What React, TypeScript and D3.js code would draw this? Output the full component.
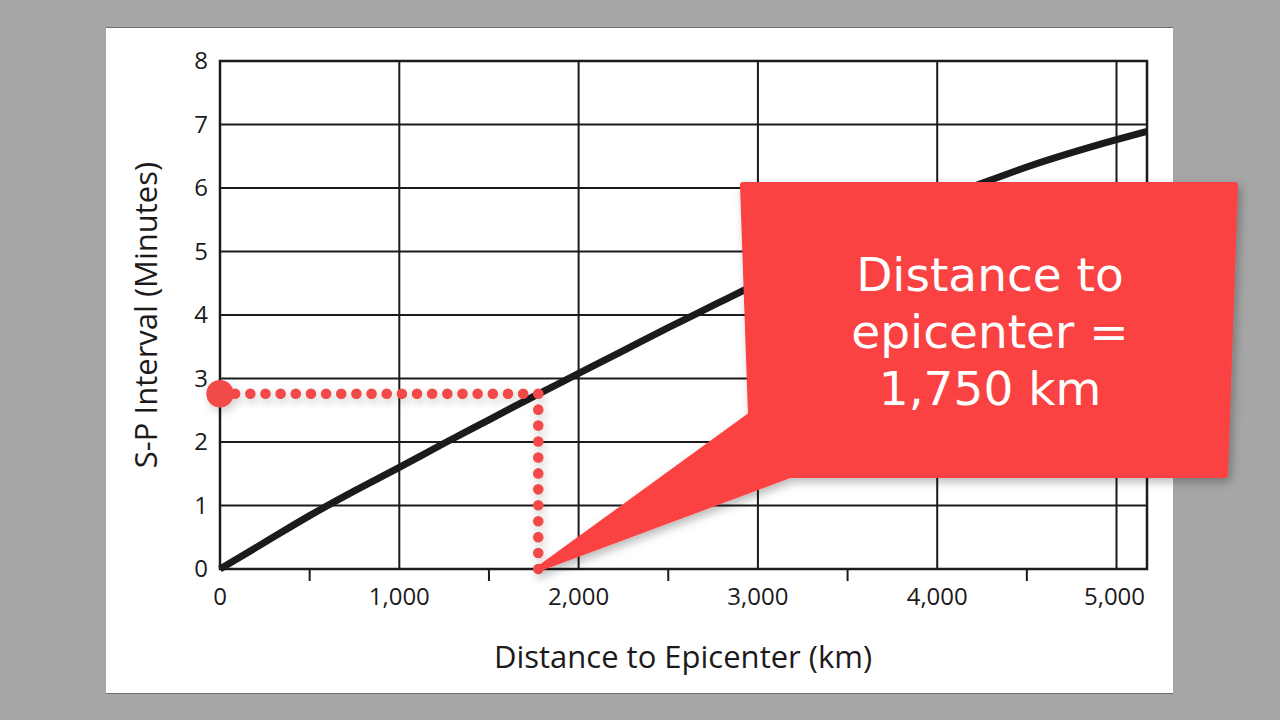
import React from "react";
import * as d3 from "d3";

// ---- data ----
const distanceKm = [0, 250, 500, 750, 1000, 1250, 1500, 1750, 2000, 2250, 2500, 2750, 3000, 3500, 4000, 4500, 5000, 5170];
const spMinutes = [0, 0.42, 0.84, 1.23, 1.6, 1.98, 2.35, 2.72, 3.08, 3.44, 3.8, 4.15, 4.5, 5.17, 5.8, 6.33, 6.76, 6.89];
const xGridTicks = [1000, 2000, 3000, 4000, 5000];
const xMinorTicks = [500, 1500, 2500, 3500, 4500];
const xTickLabels = [0, 1000, 2000, 3000, 4000, 5000];
const yTicks = [0, 1, 2, 3, 4, 5, 6, 7, 8];
const readingMinutes = 2.76;
const readingKm = 1775;
const calloutLines = ["Distance to", "epicenter =", "1,750 km"];
const xTitle = "Distance to Epicenter (km)";
const yTitle = "S-P Interval (Minutes)";

const W = 1280;
const H = 720;
const plot = { left: 220, right: 1147, top: 61, bottom: 569 };
const RED = "#fb4242";
const DOT = "#f2484a";
const INK = "#1c1a1b";

export default function App() {
  const x = d3.scaleLinear().domain([0, 5170]).range([plot.left, plot.right]);
  const y = d3.scaleLinear().domain([0, 8]).range([plot.bottom, plot.top]);
  const pts: [number, number][] = distanceKm.map((d, i) => [d, spMinutes[i]]);
  const line = d3
    .line<[number, number]>()
    .x((d) => x(d[0]))
    .y((d) => y(d[1]))
    .curve(d3.curveMonotoneX);

  const cx = x(readingKm);
  const cy = y(readingMinutes);
  const x0 = x(0);
  const y0 = y(0);

  // dotted guide lines
  const hStep = 15.5;
  const nH = Math.round((cx - x0) / hStep);
  const hDots = d3.range(0, nH).map((i) => cx - ((cx - x0) / nH) * i);
  const nV = Math.round((y0 - cy) / 15.8);
  const vDots = d3.range(1, nV + 1).map((i) => cy + ((y0 - cy) / nV) * i);

  // callout shape (tip at the reading on the x axis)
  const tipX = cx + 2;
  const tipY = y0 - 1;
  const callout = [
    [743, 185],
    [1235, 185],
    [1225, 475],
    [790, 475],
    [tipX, tipY],
    [751, 415],
  ];
  const calloutPath = "M" + callout.map((p) => p.join(",")).join("L") + "Z";

  return (
    <div style={{ position: "fixed", left: 0, top: 0 }}>
      <svg width={W} height={H} style={{ display: "block" }}>
        <defs>
          <filter id="sh" x="-20%" y="-20%" width="140%" height="140%">
            <feDropShadow dx="3" dy="4" stdDeviation="5" floodColor="#000" floodOpacity="0.28" />
          </filter>
          <filter id="sh2" x="-20%" y="-20%" width="140%" height="140%">
            <feDropShadow dx="2" dy="4" stdDeviation="4" floodColor="#000" floodOpacity="0.18" />
          </filter>
        </defs>
        <rect x={0} y={0} width={W} height={H} fill="#a6a6a6" />
        <rect x={106} y={27} width={1067} height={666} fill="#ffffff" />
        <line x1={106} x2={1173} y1={27.5} y2={27.5} stroke="#6e6e6e" strokeWidth={1} />
        <line x1={106} x2={1173} y1={693.5} y2={693.5} stroke="#6e6e6e" strokeWidth={1} />

        {/* grid */}
        {yTicks.map((t) => (
          <line key={"gy" + t} x1={plot.left} x2={plot.right} y1={y(t)} y2={y(t)} stroke={INK} strokeWidth={2} />
        ))}
        {xGridTicks.map((t) => (
          <line key={"gx" + t} x1={x(t)} x2={x(t)} y1={plot.top} y2={plot.bottom} stroke={INK} strokeWidth={2} />
        ))}
        {xMinorTicks.map((t) => (
          <line key={"mx" + t} x1={x(t)} x2={x(t)} y1={plot.bottom} y2={plot.bottom + 12} stroke={INK} strokeWidth={2} />
        ))}
        <rect
          x={plot.left}
          y={plot.top}
          width={plot.right - plot.left}
          height={plot.bottom - plot.top}
          fill="none"
          stroke={INK}
          strokeWidth={2.5}
        />

        {/* tick labels */}
        {yTicks.map((t) => (
          <text
            key={"ly" + t}
            x={208}
            y={y(t)}
            dy="0.35em"
            textAnchor="end"
            fontFamily="'Open Sans', sans-serif"
            fontSize={24}
            fill={INK}
          >
            {t}
          </text>
        ))}
        {xTickLabels.map((t) => (
          <text
            key={"lx" + t}
            x={t === 5000 ? x(t) - 2 : x(t)}
            y={605}
            textAnchor="middle"
            fontFamily="'Open Sans', sans-serif"
            fontSize={24}
            fill={INK}
          >
            {d3.format(",")(t)}
          </text>
        ))}

        {/* axis titles */}
        <text
          x={683}
          y={668}
          textAnchor="middle"
          fontFamily="'Open Sans', sans-serif"
          fontSize={31}
          fill={INK}
        >
          {xTitle}
        </text>
        <text
          transform={`translate(157,${315}) rotate(-90)`}
          textAnchor="middle"
          fontFamily="'Open Sans', sans-serif"
          fontSize={31}
          fill={INK}
        >
          {yTitle}
        </text>

        {/* curve */}
        <path d={line(pts) || ""} fill="none" stroke={INK} strokeWidth={7} />

        {/* dotted reading */}
        <g filter="url(#sh2)">
          {hDots.map((px, i) => (
            <circle key={"h" + i} cx={px} cy={cy} r={5.3} fill={DOT} />
          ))}
          {vDots.map((py, i) => (
            <circle key={"v" + i} cx={cx} cy={py} r={5.3} fill={DOT} />
          ))}
          <circle cx={x0} cy={cy} r={13.7} fill={DOT} />
        </g>

        {/* callout */}
        <path
          d={calloutPath}
          fill={RED}
          stroke={RED}
          strokeWidth={6}
          strokeLinejoin="round"
          filter="url(#sh)"
        />
        {calloutLines.map((s, i) => (
          <text
            key={"c" + i}
            x={990}
            y={291 + i * 57}
            textAnchor="middle"
            fontFamily="'DejaVu Sans', sans-serif"
            fontSize={47}
            fill="#ffffff"
          >
            {s}
          </text>
        ))}
      </svg>
    </div>
  );
}
